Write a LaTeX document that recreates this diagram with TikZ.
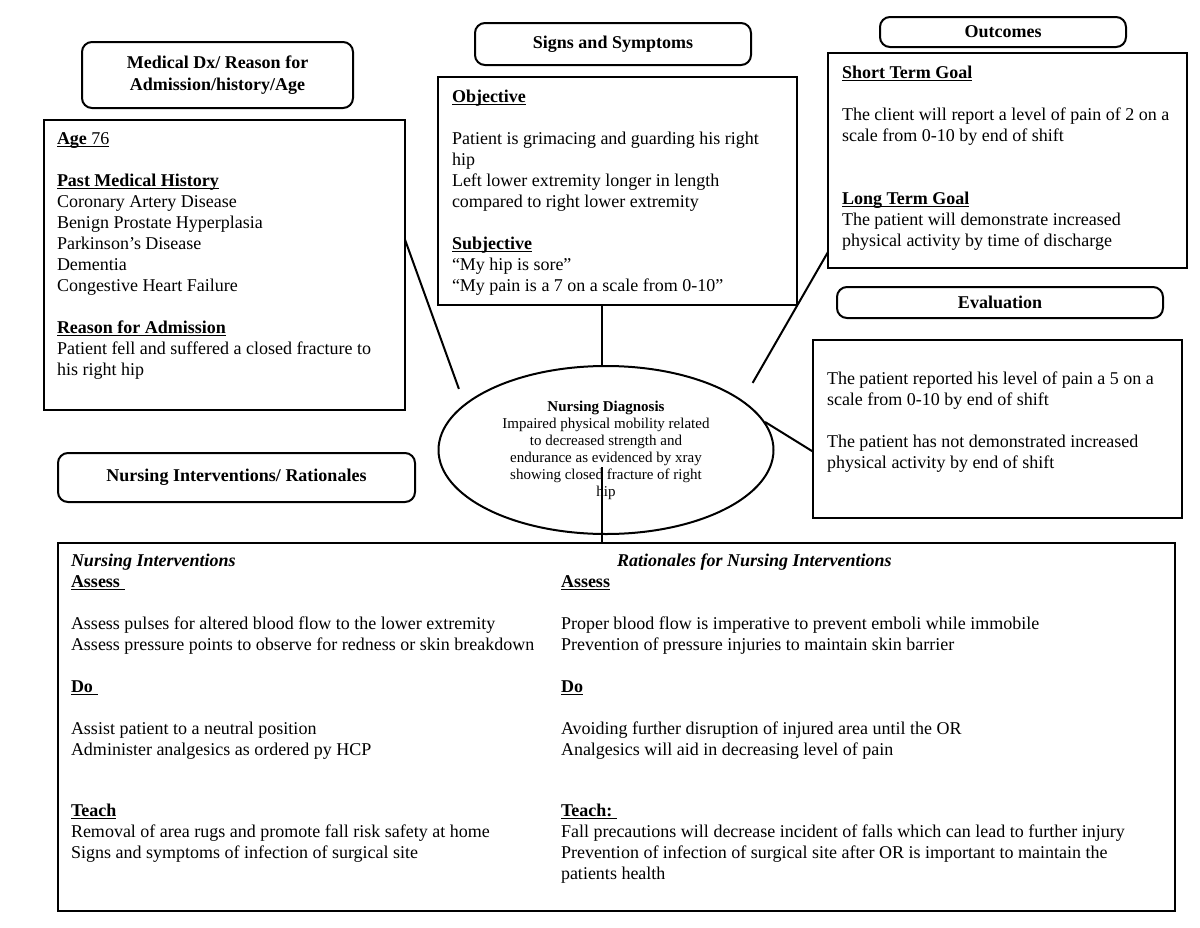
\documentclass[tikz,border=0pt]{standalone}
\usepackage{fontspec}
\setmainfont{Liberation Serif}
\usetikzlibrary{shapes.geometric,positioning}

\newsavebox{\ulbox}
\newcommand{\ulx}[1]{\sbox{\ulbox}{#1}\rlap{\rule[-1.3pt]{\wd\ulbox}{0.45pt}}\usebox{\ulbox}}
\newcommand{\hdg}[1]{\ulx{\textbf{#1}}}

\tikzset{
  hdr/.style={draw, line width=1pt, rounded corners=5pt, align=center, inner sep=0pt,
    font=\fontsize{9}{11}\selectfont\bfseries},
  panel/.style={draw, line width=1pt, inner sep=0pt, outer sep=0pt},
  txt/.style={align=left, inner sep=0pt, font=\fontsize{9}{10.5}\selectfont},
}

\begin{document}
\begin{tikzpicture}[x=0.5pt, y=-0.5pt, line width=1pt]
\useasboundingbox (0,0) rectangle (1200,927);

% header boxes
\node[hdr, minimum width=135.5pt, minimum height=33pt] (dxhdr) at (217.5,75) {Medical Dx/ Reason for\\Admission/history/Age};
\node[hdr, minimum width=138pt, minimum height=21pt] (sshdr) at (613,44) {Signs and Symptoms};
\node[hdr, minimum width=123pt, minimum height=15pt] (outhdr) at (1003,32) {Outcomes};
\node[hdr, minimum width=163pt, minimum height=15.5pt] (evhdr) at (1000,302.5) {Evaluation};
\node[hdr, minimum width=178.5pt, minimum height=24.5pt] (nihdr) at (236.5,477.5) {Nursing Interventions/ Rationales};

% panels
\node[panel, minimum width=180.5pt, minimum height=145pt] (med) at (224.5,265) {};
\node[panel, minimum width=179.5pt, minimum height=114pt] (obj) at (617.5,191) {};
\node[panel, minimum width=179.5pt, minimum height=107.5pt] (stg) at (1007.5,160.5) {};
\node[panel, minimum width=184.5pt, minimum height=89pt] (eval) at (997.5,429) {};
\node[panel, minimum width=558.5pt, minimum height=184pt] (intv) at (616.5,727) {};

% nursing diagnosis
\node[ellipse, draw, line width=1pt, inner sep=0pt, minimum width=167.5pt, minimum height=84pt,
  align=center, font=\fontsize{7.5}{8.5}\selectfont] (dx) at (606,450)
  {\textbf{Nursing Diagnosis}\\Impaired physical mobility related\\to decreased strength and\\endurance as evidenced by xray\\showing closed fracture of right\\hip};

% panel texts
\node[txt, below right=4.15pt and 6pt of med.north west] (medtxt) {\strut\ulx{\textbf{Age} 76}\\[10.5pt]
\hdg{Past Medical History}\\
Coronary Artery Disease\\
Benign Prostate Hyperplasia\\
Parkinson’s Disease\\
Dementia\\
Congestive Heart Failure\\[10.5pt]
\hdg{Reason for Admission}\\
Patient fell and suffered a closed fracture to\\
his right hip};

\node[txt, below right=4.65pt and 6.5pt of obj.north west] (objtxt) {\strut\hdg{Objective}\\[10.5pt]
Patient is grimacing and guarding his right\\
hip\\
Left lower extremity longer in length\\
compared to right lower extremity\\[10.5pt]
\hdg{Subjective}\\
“My hip is sore”\\
“My pain is a 7 on a scale from 0-10”};

\node[txt, below right=4.65pt and 6.5pt of stg.north west] (stgtxt) {\strut\hdg{Short Term Goal}\\[10.5pt]
The client will report a level of pain of 2 on a\\
scale from 0-10 by end of shift\\[21pt]
\hdg{Long Term Goal}\\
The patient will demonstrate increased\\
physical activity by time of discharge};

\node[txt, below right=14.15pt and 6.5pt of eval.north west] (evaltxt) {\strut The patient reported his level of pain a 5 on a\\
scale from 0-10 by end of shift\\[10.5pt]
The patient has not demonstrated increased\\
physical activity by end of shift};

\node[txt, below right=3.65pt and 6pt of intv.north west] (nitxt) {\strut\textbf{\textit{Nursing Interventions}}\\
\hdg{Assess\ }\\[10.5pt]
Assess pulses for altered blood flow to the lower extremity\\
Assess pressure points to observe for redness or skin breakdown\\[10.5pt]
\hdg{Do\ }\\[10.5pt]
Assist patient to a neutral position\\
Administer analgesics as ordered py HCP\\[20pt]
\hdg{Teach}\\
Removal of area rugs and promote fall risk safety at home\\
Signs and symptoms of infection of surgical site};

\node[txt, below right=3.65pt and 251pt of intv.north west] (ratxt) {\strut\hspace*{28pt}\textbf{\textit{Rationales for Nursing Interventions}}\\
\hdg{Assess}\\[10.5pt]
Proper blood flow is imperative to prevent emboli while immobile\\
Prevention of pressure injuries to maintain skin barrier\\[10.5pt]
\hdg{Do}\\[10.5pt]
Avoiding further disruption of injured area until the OR\\
Analgesics will aid in decreasing level of pain\\[20pt]
\hdg{Teach:\ }\\
Fall precautions will decrease incident of falls which can lead to further injury\\
Prevention of infection of surgical site after OR is important to maintain the\\
patients health};

% connectors
\draw[shorten >=8pt] (med.8.5) -- (dx.162);
\draw ([xshift=-2pt]dx.north |- obj.south) -- ([xshift=-2pt]dx.north);
\draw[shorten >=10pt] (stg.207) -- (dx.20);
\draw (dx.10) -- (eval.187);
\draw ([shift={(-2pt,-8.5pt)}]dx.center) -- ([xshift=-2pt]dx.center |- intv.north);
\end{tikzpicture}
\end{document}
